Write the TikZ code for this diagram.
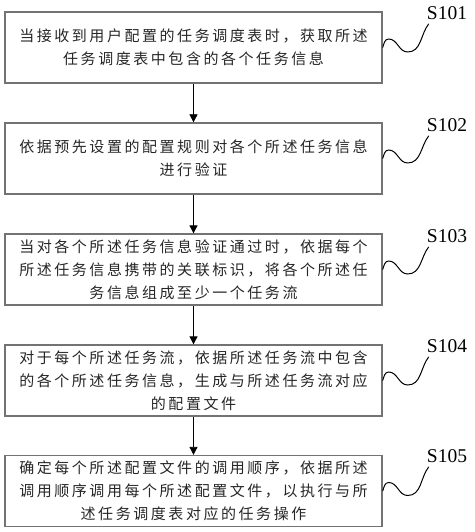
\documentclass[tikz,border=0pt]{standalone}
\usepackage{fontspec}
\setmainfont{Liberation Serif}
\newfontfamily\cjk[LetterSpace=17]{Noto Sans CJK SC}
\usetikzlibrary{arrows.meta,positioning}

\begin{document}
\begin{tikzpicture}[x=1pt,y=-1pt,
    stepbox/.style={draw=black!55, line width=1.3pt, minimum width=377pt,
      minimum height=71pt, inner sep=0pt, align=center, text=black!85,
      font=\cjk\fontsize{15}{23}\selectfont},
    steplabel/.style={inner sep=0pt, font=\fontsize{19.5}{19.5}\selectfont},
    flow/.style={-{Triangle[length=8pt,width=8pt]}, line width=0.8pt},
    wave/.style={line width=1pt}]
  \useasboundingbox (0,0) rectangle (474,532);

  % steps
  \node[stepbox] (s1) at (193.5,47.5) {当接收到用户配置的任务调度表时，获取所述\\任务调度表中包含的各个任务信息};
  \node[stepbox] (s2) at (193.5,158.5) {依据预先设置的配置规则对各个所述任务信息\\进行验证};
  \node[stepbox] (s3) at (193.5,269.5) {当对各个所述任务信息验证通过时，依据每个\\所述任务信息携带的关联标识，将各个所述任\\务信息组成至少一个任务流};
  \node[stepbox] (s4) at (193.5,380.5) {对于每个所述任务流，依据所述任务流中包含\\的各个所述任务信息，生成与所述任务流对应\\的配置文件};
  \node[stepbox] (s5) at (193.5,491) {确定每个所述配置文件的调用顺序，依据所述\\调用顺序调用每个所述配置文件，以执行与所\\述任务调度表对应的任务操作};

  % labels
  \node[steplabel] (l1) at (447,13) {S101};
  \node[steplabel] (l2) at (447,125) {S102};
  \node[steplabel] (l3) at (447,236) {S103};
  \node[steplabel] (l4) at (447,346) {S104};
  \node[steplabel] (l5) at (447,456) {S105};

  \foreach \i in {1,...,5} {
    \coordinate (e\i) at ([shift={(2,4)}]l\i.south west);
    \draw[wave] (s\i.east) to[out=70,in=180] ++(6,-8.5)
      to[out=0,in=180] ++(19,13) to[out=0,in=232] (e\i);
  }

  % arrows
  \draw[flow] (s1) -- (s2);
  \draw[flow] (s2) -- (s3);
  \draw[flow] (s3) -- (s4);
  \draw[flow] (s4) -- (s5);
\end{tikzpicture}
\end{document}
